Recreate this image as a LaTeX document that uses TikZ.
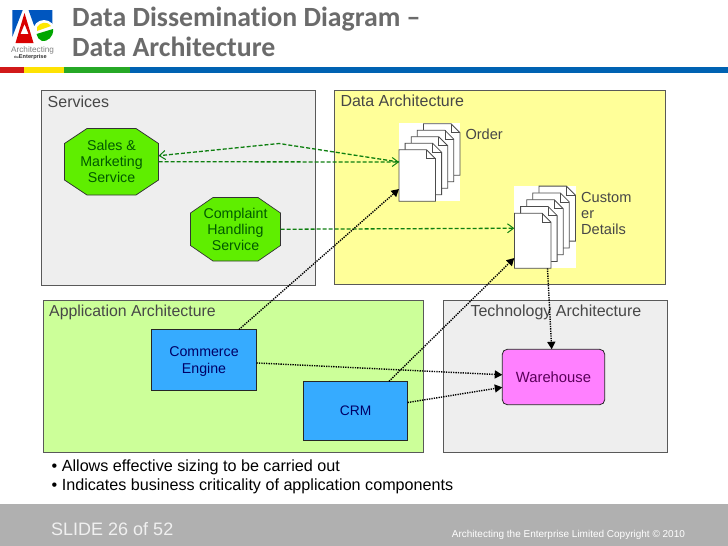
\documentclass[tikz,border=0pt]{standalone}
\usepackage{fontspec}
\setmainfont{Liberation Sans}
\newfontfamily\titlefont[Ligatures=NoCommon]{Carlito}
\usetikzlibrary{arrows.meta}
\definecolor{panelgrey}{HTML}{EEEEEE}
\definecolor{panelyellow}{HTML}{FFFF99}
\definecolor{panelgreen}{HTML}{CCFF99}
\definecolor{svcgreen}{HTML}{5FEE00}
\definecolor{appblue}{HTML}{36ABFF}
\definecolor{techpink}{HTML}{FF80FF}
\definecolor{dashgreen}{HTML}{0E7F10}
\tikzset{
  panel/.style={draw=black!65,line width=.8pt,fill=#1,rectangle,inner sep=0pt,outer sep=0pt},
  paneltext/.style={anchor=base west,inner sep=0pt,font=\fontsize{16}{18}\selectfont,text=black!72},
  octagon/.style={draw=black!80,line width=.7pt,fill=svcgreen},
  service/.style={rectangle,inner sep=0pt,outer sep=0pt,
    align=center,text=green!35!black,font=\fontsize{14.2}{16}\selectfont},
  appbox/.style={rectangle,draw=black!85,line width=.8pt,fill=appblue,inner sep=0pt,outer sep=0pt,
    minimum width=105pt,align=center,text=blue!40!black,font=\fontsize{14.2}{17}\selectfont},
  techbox/.style={rectangle,rounded corners=5pt,draw=black!85,line width=.8pt,fill=techpink,inner sep=0pt,outer sep=0pt,
    minimum width=102.4pt,minimum height=55.4pt,text=violet!70!black,font=\fontsize{14.8}{16}\selectfont},
  docanchor/.style={rectangle,inner sep=0pt,outer sep=0pt,minimum width=37pt},
  sheet/.style={draw=black!70,line width=.8pt,fill=white},
  flow/.style={dash pattern=on 4pt off 2pt,color=dashgreen,line width=1.3pt},
  flowtip/.style={-{Straight Barb[length=6pt,width=9pt,line width=1pt]}},
  link/.style={dash pattern=on 1.3pt off 1.1pt,color=black,line width=1.4pt,-{Triangle[length=7.5pt,width=8pt]}},
  plain/.style={anchor=base west,inner sep=0pt},
  titleline/.style={plain,font=\titlefont\bfseries\fontsize{27.8}{30}\selectfont,text=black!58}
}
\newcommand{\docsheet}[3]{%
  \draw[sheet] (#1,#2) -- ++(27.5,0) -- ++(9,9) -- ++(0,#3-9) -- ++(-36.5,0) -- cycle;
  \draw[sheet,fill=none,line width=.6pt] (#1+27.5,#2) -- ++(0,9) -- ++(9,0);
}
\begin{document}
\begin{tikzpicture}[x=1pt,y=-1pt]
\useasboundingbox (0,0) rectangle (728,546);
\fill[white] (0,0) rectangle (728,546);
% header strip
\fill[red!80!black!90] (0,67) rectangle (24,73);
\fill[yellow!85!orange] (24,67) rectangle (64,73);
\fill[green!60!black!85] (64,67) rectangle (130,73);
\fill[blue!45!cyan!70!black] (130,67) rectangle (728,73);
% footer
\fill[black!31] (0,503.5) rectangle (728,546);
% logo
\fill[blue!55!cyan!75!black] (12.3,10) -- (22.7,10) -- (12.3,37) -- cycle;
\fill[blue!55!cyan!75!black] (28.5,10) -- (52.3,10) -- (52.3,24) -- (36,31) -- cycle;
\fill[red!85!black,even odd rule] (24.5,13) -- (33.5,43) -- (15.5,43) -- cycle (24.5,24) -- (20.5,34) -- (28.5,34) -- cycle;
\fill[white] (44,31) circle (11);
\fill[yellow!90!orange] (37,31) -- (37,27) .. controls (40,22) and (48,21) .. (51,26) -- cycle;
\fill[green!65!black] (36.5,34) -- (53,29) .. controls (54,37) and (47,42) .. (42,41) .. controls (39,40) and (37,37) .. (36.5,34) -- cycle;
\node[plain,font=\fontsize{8.2}{9}\selectfont,text=black!50] (logotop) at (11,52) {Architecting};
\node[plain,font=\fontsize{5.6}{6}\selectfont\bfseries,text=black!80] (logobottom) at (14,58) {{\fontsize{3.2}{4}\selectfont the}Enterprise};
% title
\node[titleline] (titleone) at (72,26) {Data Dissemination Diagram –};
\node[titleline] (titletwo) at (72,56.5) {Data Architecture};
% panels
\node[panel=panelgrey,minimum width=274pt,minimum height=195pt] (services) at (178.3,188) {};
\node[panel=panelyellow,minimum width=331pt,minimum height=193.5pt] (dataarch) at (500.1,187.3) {};
\node[panel=panelgreen,minimum width=380.2pt,minimum height=152pt] (apparch) at (233.6,376) {};
\node[panel=panelgrey,minimum width=224.3pt,minimum height=152pt] (techarch) at (555.5,376) {};
\node[paneltext] (servicestext) at (47.5,107.3) {Services};
\node[paneltext] (datatext) at (340.3,106.7) {Data Architecture};
\node[paneltext,font=\fontsize{15.85}{18}\selectfont] (apptext) at (49,316.7) {Application Architecture};
\node[paneltext] (techtext) at (470.3,316.7) {Technology Architecture};
% services
\draw[octagon] (87,128.5) -- (136,128.5) -- (158.5,143.5) -- (158.5,180) -- (136,195) -- (87,195) -- (64.5,180) -- (64.5,143.5) -- cycle;
\node[service,minimum width=94pt,minimum height=66.5pt] (sales) at (111.5,161.75) {Sales \&\\Marketing\\Service};
\draw[octagon] (213,197.5) -- (258,197.5) -- (280.5,213) -- (280.5,245.5) -- (258,261) -- (213,261) -- (190.5,245.5) -- (190.5,213) -- cycle;
\node[service,minimum width=90pt,minimum height=63.5pt] (complaint) at (235.5,229.25) {Complaint\\Handling\\Service};
% documents
\fill[white] (399,123.3) rectangle (459.9,200.9);
\fill[white] (514.3,185.5) rectangle (575.9,268.4);
\foreach \k in {4,3,2,1,0} {\docsheet{399+6.1*\k}{149.7-6.5*\k}{51.5}}
\foreach \k in {4,3,2,1,0} {\docsheet{514.5+6.1*\k}{213.3-6.8*\k}{55}}
\node[docanchor,minimum height=51.5pt] (order) at (417.5,175.5) {};
\node[docanchor,minimum height=55pt] (customer) at (532.8,240.8) {};
\node[paneltext,font=\fontsize{14.6}{16}\selectfont] (ordertext) at (465.3,139) {Order};
\node[paneltext,anchor=north west,align=left,font=\fontsize{14.6}{16.2}\selectfont] (customertext) at (581,192) {Custom\\er\\Details};
% applications
\node[appbox,minimum height=60.5pt] (commerce) at (204,359.75) {\raisebox{-2pt}[10pt][3pt]{Commerce}\\\raisebox{-2pt}[10pt][3pt]{Engine}};
\node[appbox,font=\fontsize{13.8}{16}\selectfont,minimum width=104.2pt,minimum height=59pt] (crm) at (355.6,410.8) {CRM};
\node[techbox] (warehouse) at (553.5,377) {Warehouse};
% connectors
\coordinate (peak) at (279,143.5);
\draw[flow,flowtip] ([yshift=13.5pt]order.west) -- (peak) -- ([yshift=6pt]sales.east);
\draw[flow,flowtip] (sales.east) -- ([yshift=13.5pt]order.west);
\draw[flow,flowtip] (complaint.east) -- ([yshift=1pt]customer.west |- complaint.east);
\draw[link] ([xshift=35pt]commerce.north) -- ([yshift=-13.5pt]order.west);
\draw[link] ([xshift=33.4pt]crm.north) -- ([yshift=-17.2pt]customer.west);
\draw[link] ([xshift=14.7pt]customer.south) -- ([xshift=-1.8pt]warehouse.north);
\draw[link] ([yshift=-3.2pt]commerce.east) -- ([yshift=2.2pt]warehouse.west);
\draw[link] ([yshift=8.3pt]crm.east) -- ([yshift=-10.3pt]warehouse.west);
% notes and footer
\node[plain,font=\fontsize{16.15}{18}\selectfont] (noteone) at (51.5,471.6) {• Allows effective sizing to be carried out};
\node[plain,font=\fontsize{16.15}{18}\selectfont] (notetwo) at (51.5,490.4) {• Indicates business criticality of application components};
\node[plain,font=\fontsize{18}{20}\selectfont,text=black!6] (slide) at (51,535.5) {SLIDE 26 of 52};
\node[plain,font=\fontsize{10}{12}\selectfont,text=white] (copy) at (451.7,537.3) {Architecting the Enterprise Limited Copyright © 2010};
\end{tikzpicture}
\end{document}
